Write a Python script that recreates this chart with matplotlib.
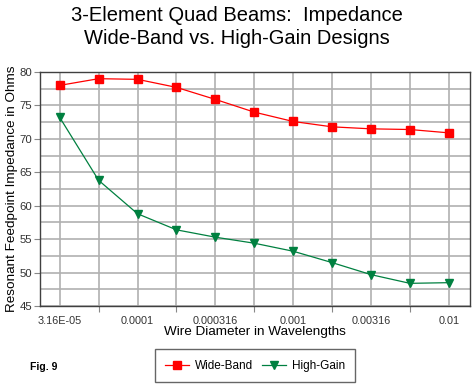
import numpy as np
import matplotlib.pyplot as plt

plt.rcParams['font.family'] = ['Liberation Sans', 'DejaVu Sans']

# wire diameter (wavelengths), one label on every other point
diam_labels = ["3.16E-05", "", "0.0001", "", "0.000316", "", "0.001", "", "0.00316", "", "0.01"]
wide_band = [78.0, 79.0, 78.9, 77.7, 75.9, 74.0, 72.6, 71.8, 71.5, 71.4, 70.9]
high_gain = [73.2, 63.8, 58.8, 56.4, 55.3, 54.4, 53.2, 51.5, 49.7, 48.4, 48.5]

x = np.arange(len(diam_labels))

fig = plt.figure(figsize=(4.74, 3.85), dpi=100)
ax = fig.add_axes([0.085, 0.205, 0.907, 0.608])

ax.plot(x, wide_band, color='#ff0000', lw=0.9, marker='s', ms=5.2,
        markerfacecolor='#ff0000', markeredgecolor='#ff0000', label='Wide-Band', zorder=3)
ax.plot(x, high_gain, color='#008040', lw=0.9, marker='v', ms=5.5,
        markerfacecolor='#008040', markeredgecolor='#008040', label='High-Gain', zorder=3)

ax.set_xlim(-0.5, 10.55)
ax.set_ylim(45, 80)
ax.set_xticks(x)
ax.set_xticklabels(diam_labels)
ax.set_yticks(np.arange(45, 81, 5))
ax.set_yticks(np.arange(45, 80, 2.5), minor=True)
ax.grid(True, which='both', axis='y', color='#b0b0b0', lw=1.2)
ax.grid(True, axis='x', color='#b0b0b0', lw=1.2)
ax.set_axisbelow(True)
ax.tick_params(axis='both', which='major', labelsize=7.8, labelcolor='#333333',
               length=4, color='#888888')
ax.tick_params(axis='y', which='major', labelsize=8.2, pad=2)
ax.tick_params(axis='y', which='minor', length=0)
for lab, t in zip(diam_labels, ax.xaxis.get_major_ticks()):
    if lab:
        t.tick1line.set_visible(False)
for s in ax.spines.values():
    s.set_color('#404040')
    s.set_linewidth(1.0)

ax.set_xlabel("Wire Diameter in Wavelengths", fontsize=9.7, labelpad=0)
ax.set_ylabel("Resonant Feedpoint Impedance in Ohms", fontsize=9.7, labelpad=1)

fig.text(0.5, 0.985, "3-Element Quad Beams:  Impedance\nWide-Band vs. High-Gain Designs",
         ha='center', va='top', fontsize=14.5, linespacing=1.25)

leg = fig.legend(loc='center', bbox_to_anchor=(0.538, 0.05), ncol=2, fontsize=8.5,
                 frameon=True, fancybox=False, edgecolor='#404040', handlelength=2.0,
                 borderpad=0.9, columnspacing=0.8, handletextpad=0.5)
leg.get_frame().set_linewidth(1.0)

fig.text(0.063, 0.04, "Fig. 9", fontsize=7.5, fontweight='bold')

fig.savefig('out.png', dpi=100)
